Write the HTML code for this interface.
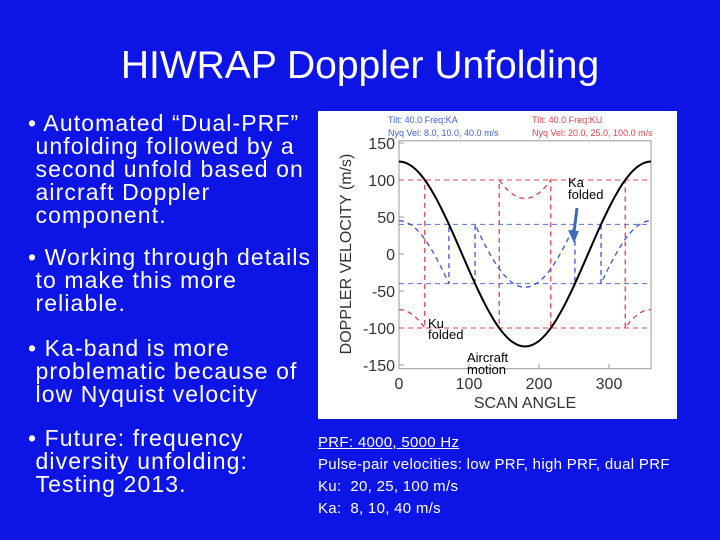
<!DOCTYPE html>
<html><head><meta charset="utf-8"><style>
html,body{margin:0;padding:0}
body{width:720px;height:540px;background:#0c14e6;position:relative;overflow:hidden;font-family:"Liberation Sans",sans-serif;color:#fff}
.t{position:absolute;white-space:nowrap}
.b{font-size:23px;line-height:23px;letter-spacing:1.1px}
</style></head><body>
<div class="t" style="left:0;width:720px;text-align:center;top:44px;font-size:39px">HIWRAP Doppler Unfolding</div>
<div class="t b" style="left:28px;top:112px">• Automated “Dual-PRF”<br>&nbsp;unfolding followed by a<br>&nbsp;second unfold based on<br>&nbsp;aircraft Doppler<br>&nbsp;component.</div>
<div class="t b" style="left:28px;top:246px">• Working through details<br>&nbsp;to make this more<br>&nbsp;reliable.</div>
<div class="t b" style="left:28px;top:337px">• Ka-band is more<br>&nbsp;problematic because of<br>&nbsp;low Nyquist velocity</div>
<div class="t b" style="left:28px;top:427px">• Future: frequency<br>&nbsp;diversity unfolding:<br>&nbsp;Testing 2013.</div>
<div class="t" style="left:318px;top:432px;font-size:15px;line-height:22px;letter-spacing:0.3px"><span style="text-decoration:underline">PRF: 4000, 5000 Hz</span><br>Pulse-pair velocities: low PRF, high PRF, dual PRF<br>Ku:&nbsp; 20, 25, 100 m/s<br>Ka:&nbsp; 8, 10, 40 m/s</div>
<svg id="chart" width="720" height="540" style="position:absolute;left:0;top:0" font-family="Liberation Sans, sans-serif">
<rect x="318" y="111" width="359" height="308" fill="#fff"/>
<g id="plot"></g>
<text x="388" y="123" font-size="9" fill="#3c5ee0">Tilt: 40.0 Freq:KA</text>
<text x="388" y="136" font-size="9" fill="#3c5ee0">Nyq Vel:  8.0, 10.0,  40.0 m/s</text>
<text x="532" y="123" font-size="9" fill="#e0404a">Tilt: 40.0 Freq:KU</text>
<text x="532" y="136" font-size="9" fill="#e0404a">Nyq Vel: 20.0, 25.0, 100.0 m/s</text>
<text transform="translate(351,254) rotate(-90)" text-anchor="middle" font-size="16" fill="#333">DOPPLER VELOCITY (m/s)</text>
<text x="525" y="408" text-anchor="middle" font-size="16" fill="#333">SCAN ANGLE</text>
<text font-size="13" fill="#000"><tspan x="568" y="187">Ka</tspan><tspan x="568" y="199">folded</tspan></text>
<path d="M577,208 L574,232" stroke="#3a6db5" stroke-width="3"/>
<path d="M568,230 L574,243 L579,231 Z" fill="#3a6db5"/>
<text font-size="13" fill="#000"><tspan x="428" y="328">Ku</tspan><tspan x="428" y="339">folded</tspan></text>
<text font-size="13" fill="#000"><tspan x="467" y="362">Aircraft</tspan><tspan x="467" y="374">motion</tspan></text>
</svg>
<script>
const angles=[0,5,10,15,20,25,30,35,40,45,50,55,60,65,70,75,80,85,90,95,100,105,110,115,120,125,130,135,140,145,150,155,160,165,170,175,180,185,190,195,200,205,210,215,220,225,230,235,240,245,250,255,260,265,270,275,280,285,290,295,300,305,310,315,320,325,330,335,340,345,350,355,360];
const aircraftVel=[125,124.5,123.1,120.7,117.5,113.3,108.3,102.4,95.8,88.4,80.3,71.7,62.5,52.8,42.8,32.4,21.7,10.9,0,-10.9,-21.7,-32.4,-42.8,-52.8,-62.5,-71.7,-80.3,-88.4,-95.8,-102.4,-108.3,-113.3,-117.5,-120.7,-123.1,-124.5,-125,-124.5,-123.1,-120.7,-117.5,-113.3,-108.3,-102.4,-95.8,-88.4,-80.3,-71.7,-62.5,-52.8,-42.8,-32.4,-21.7,-10.9,0,10.9,21.7,32.4,42.8,52.8,62.5,71.7,80.3,88.4,95.8,102.4,108.3,113.3,117.5,120.7,123.1,124.5,125];
const nyqKu=100;
const nyqKa=40;
const xTicks=[0,100,200,300];
const yTicks=[150,100,50,0,-50,-100,-150];
const xs=a=>399+a*252/360;
const ys=v=>254-v*37/50;
const NS="http://www.w3.org/2000/svg";
const g=document.getElementById('plot');
function mk(tag,at){const e=document.createElementNS(NS,tag);for(const k in at)e.setAttribute(k,at[k]);g.appendChild(e);return e;}
const frame=mk('rect',{x:xs(0),y:ys(153),width:xs(360)-xs(0),height:ys(-155)-ys(153),fill:'none',stroke:'#999','stroke-width':1});


xTicks.forEach(t=>{const e=mk('text',{x:xs(t),y:389,'text-anchor':'middle','font-size':16,fill:'#333'});e.textContent=t;


const k=mk('line',{x1:xs(t),x2:xs(t),y1:ys(-155),y2:ys(-155)-5,stroke:'#999'});

});
yTicks.forEach(t=>{const e=mk('text',{x:395,y:ys(t)+6,'text-anchor':'end','font-size':16,fill:'#333'});e.textContent=t;


const k=mk('line',{x1:xs(0),x2:xs(0)+5,y1:ys(t),y2:ys(t),stroke:'#999'});

});
[[nyqKu,'#e0404a','ku-nyquist-line'],[-nyqKu,'#e0404a','ku-nyquist-line'],[nyqKa,'#5a6ed8','ka-nyquist-line'],[-nyqKa,'#5a6ed8','ka-nyquist-line']].forEach(([v,c,n])=>{
const l=mk('line',{x1:xs(0),x2:xs(360),y1:ys(v),y2:ys(v),stroke:c,'stroke-width':1,'stroke-dasharray':'5,4'});

});
function kOf(v,N){return Math.abs(v)>N?Math.sign(v):0;}
function foldedPath(N){
let d='';
for(let i=0;i<angles.length;i++){
const v1=aircraftVel[i],k1=kOf(v1,N);
if(i===0){d+='M'+xs(angles[i])+','+ys(v1-2*N*k1);continue;}
const v0=aircraftVel[i-1],k0=kOf(v0,N);
if(k0!==k1){
const b=(k0!==0?k0:k1)*N;
const tt=(b-v0)/(v1-v0);
const ac=angles[i-1]+tt*(angles[i]-angles[i-1]);
d+=' L'+xs(ac)+','+ys(b-2*N*k0)+' L'+xs(ac)+','+ys(b-2*N*k1);
}
d+=' L'+xs(angles[i])+','+ys(v1-2*N*k1);}
return d;}
const ku=mk('path',{d:foldedPath(nyqKu),fill:'none',stroke:'#e0404a','stroke-width':1.3,'stroke-dasharray':'5,4'});


const ka=mk('path',{d:foldedPath(nyqKa),fill:'none',stroke:'#3c50d8','stroke-width':1.3,'stroke-dasharray':'5,4'});


const ac=mk('path',{d:angles.map((a,i)=>(i?'L':'M')+xs(a)+','+ys(aircraftVel[i])).join(' '),fill:'none',stroke:'#000','stroke-width':2});


</script>
</body></html>
